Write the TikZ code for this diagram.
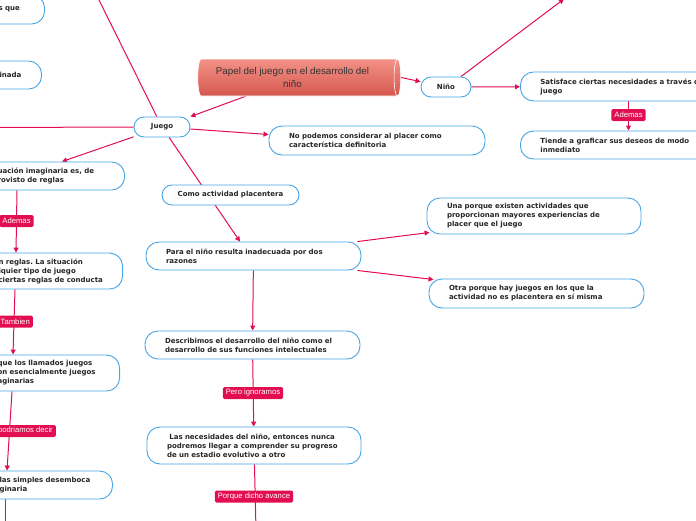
\documentclass[tikz,border=0pt]{standalone}
\usepackage{fontspec}
\usepackage{xcolor}
\usepackage{tikz}
\usetikzlibrary{positioning}
\usetikzlibrary{arrows.meta}
\usetikzlibrary{shapes.geometric}
\frenchspacing
\newfontfamily\ideafont{DejaVu Sans}
\newfontfamily\tagfont{Liberation Sans}
\definecolor{linkred}{RGB}{226,14,82}
\definecolor{ideablue}{RGB}{70,165,230}
\definecolor{titletop}{RGB}{243,146,136}
\definecolor{titlebot}{RGB}{213,88,78}
\pgfdeclarelayer{nodelayer}
\pgfdeclarelayer{edgelayer}
\pgfsetlayers{edgelayer,nodelayer,main}
\tikzset{
    idea/.style = {draw=ideablue, line width=0.9pt, fill=white, rounded corners=13pt, inner xsep=20pt, inner ysep=0pt, align=left, text=black!85, font=\ideafont\bfseries\fontsize{7}{9}\selectfont},
    smallidea/.style = {idea, rounded corners=10pt, align=center, minimum height=20pt, inner xsep=0pt},
    tagbox/.style = {fill=linkred, rounded corners=1.5pt, text=white, inner xsep=3pt, inner ysep=0pt, minimum height=12pt, font=\tagfont\fontsize{7.7}{8}\selectfont},
    linkline/.style = {draw=linkred, line width=1pt, -{Triangle[length=5pt,width=5pt]}}
}
\begin{document}
\begin{tikzpicture}[x=1pt, y=-1pt]
  \useasboundingbox (0, 0) rectangle (696, 520);
  \begin{pgfonlayer}{nodelayer}
    \node [cylinder, shape border rotate=0, aspect=0.25, minimum height=203pt, minimum width=37pt, shade, top color=titletop, bottom color=titlebot, draw=white, line width=0.6pt, align=center, text=black!80, font=\tagfont\fontsize{9.8}{13}\selectfont] (0) at (296.5, 77.5) {Papel del juego en el desarrollo del\hspace*{8pt}\\niño\hspace*{8pt}};
    \node [style=smallidea, minimum width=50pt] (1) at (446, 87) {Niño};
    \node [style=idea, anchor=west, text width=190pt, minimum height=29pt] (2) at (520, 86.5) {Satisface ciertas necesidades a través de\\juego};
    \node [style=tagbox] (3) at (628.5, 115) {Ademas};
    \node [style=idea, anchor=west, text width=190pt, minimum height=28pt] (4) at (520, 145) {Tiende a graficar sus deseos de modo\\inmediato};
    \node [style=smallidea, minimum width=56pt] (5) at (162, 127) {Juego};
    \node [style=idea, text width=176pt, minimum height=29pt] (6) at (377, 140.5) {No podemos considerar al placer como\\característica definitoria};
    \node [style=smallidea, minimum width=137pt] (7) at (230.5, 195) {Como actividad placentera};
    \node [style=idea, text width=175pt, minimum height=28pt] (8) at (253.5, 256) {Para el niño resulta inadecuada por dos\\razones};
    \node [style=idea, text width=174pt, minimum height=36pt] (9) at (534, 216) {Una porque existen actividades que\\proporcionan mayores experiencias de\\placer que el juego};
    \node [style=idea, text width=175pt, minimum height=29pt] (10) at (536.5, 293.5) {Otra porque hay juegos en los que la\\actividad no es placentera en sí misma};
    \node [style=idea, text width=175pt, minimum height=28pt] (11) at (252.5, 345) {Describimos el desarrollo del niño como el\\desarrollo de sus funciones intelectuales};
    \node [style=tagbox] (12) at (253, 393) {Pero ignoramos};
    \node [style=idea, text width=174pt, minimum height=37pt] (13) at (254, 445.5) {\ Las necesidades del niño, entonces nunca\\podremos llegar a comprender su progreso\\de un estadio evolutivo a otro};
    \node [style=tagbox] (14) at (254, 496.5) {Porque dicho avance};
    \node [style=idea, anchor=east, text width=26pt, minimum height=29pt] (15) at (45, 9.5) {s que};
    \node [style=idea, anchor=east, text width=22pt, minimum height=28pt] (16) at (42, 75) {inada};
    \node [style=idea, anchor=east, text width=107pt, minimum height=28pt] (17) at (125, 176) {\mbox{uación imaginaria es, de}\\rovisto de reglas};
    \node [style=tagbox] (18) at (16.5, 221) {Ademas};
    \node [style=idea, anchor=east, text width=104pt, minimum height=36pt] (19) at (123, 271) {n reglas. La situación\\iquier tipo de juego\\\mbox{ciertas reglas de conducta}};
    \node [style=tagbox, anchor=east] (20) at (33, 321.5) {Tambien};
    \node [style=idea, anchor=east, text width=102pt, minimum height=36pt] (21) at (120, 373) {que los llamados juegos\\\mbox{on esencialmente juegos}\\aginarias};
    \node [style=tagbox, anchor=east] (22) at (56, 431) {podriamos decir};
    \node [style=idea, anchor=east, text width=93pt, minimum height=28pt] (23) at (113, 485) {\mbox{las simples desemboca}\\ginaria};
    \coordinate (24) at (564, -1);
    \coordinate (25) at (95, -8);
    \coordinate (26) at (-10, 127.5);
    \coordinate (27) at (256, 530);
    \coordinate (28) at (5, 530);
  \end{pgfonlayer}
  \begin{pgfonlayer}{edgelayer}
    \draw [style=linkline] ([xshift=-51pt]0.south) to (5);
    \draw [style=linkline] (0.east) to (1);
    \draw [style=linkline] ([xshift=15pt]1.north) to (24);
    \draw [style=linkline] (1) to (2);
    \draw [style=linkline] ([xshift=108.5pt]2.south west) to ([xshift=108.5pt]4.north west);
    \draw [style=linkline] (5) to (25);
    \draw [style=linkline] (5.west) to (26);
    \draw [style=linkline] (5) to ([yshift=6pt]6.west);
    \draw [style=linkline] (5) to ([xshift=-63pt]17.north east);
    \draw [style=linkline] (5) to ([xshift=-13.5pt]8.north);
    \draw [style=linkline] ([xshift=-4pt]8.north east) to ([xshift=3pt, yshift=2pt]9.south west);
    \draw [style=linkline] ([xshift=-4pt]8.south east) to ([xshift=5pt, yshift=-1pt]10.north west);
    \draw [style=linkline] (8) to (11);
    \draw [style=linkline] (11) to (13);
    \draw [style=linkline] (13) to (27);
    \draw [style=linkline] ([xshift=-108pt]17.south east) to ([xshift=-107pt]19.north east);
    \draw [style=linkline] ([xshift=-108pt]19.south east) to ([xshift=-107pt]21.north east);
    \draw [style=linkline] ([xshift=-108pt]21.south east) to ([xshift=-106pt]23.north east);
    \draw [style=linkline] ([xshift=-108pt]23.south east) to (28);
  \end{pgfonlayer}
\end{tikzpicture}
\end{document}
